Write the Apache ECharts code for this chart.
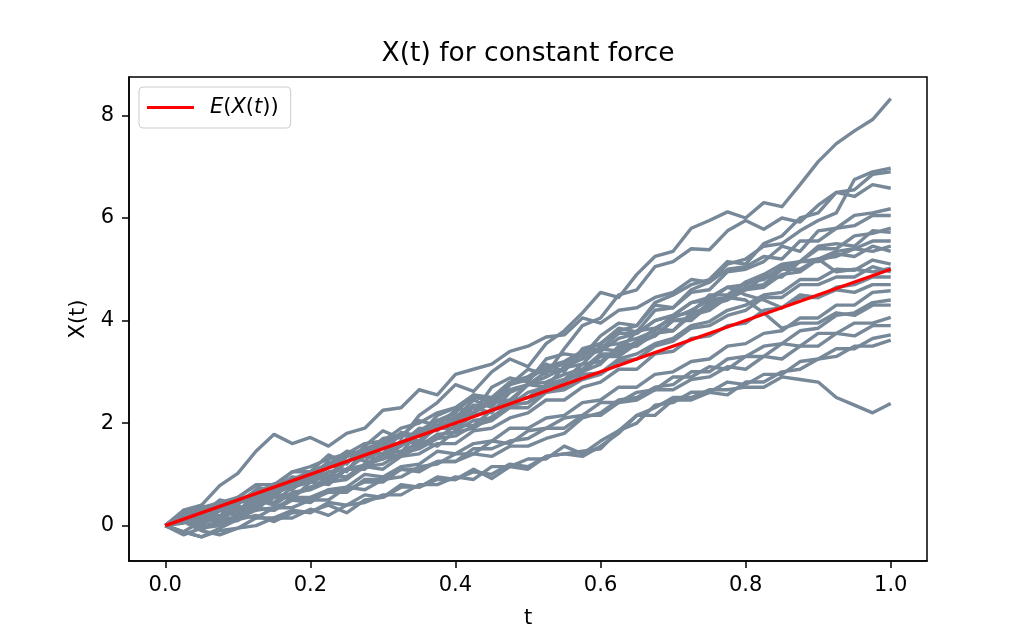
<!DOCTYPE html>
<html>
<head>
<meta charset="utf-8">
<script src="https://cdn.jsdelivr.net/npm/echarts@6/dist/echarts.min.js"></script>
<style>html,body{margin:0;padding:0;background:#fff}#c{width:1030px;height:634px}</style>
</head>
<body>
<div id="c"></div>
<script>
// time grid
const times = [0, 0.025, 0.05, 0.075, 0.1, 0.125, 0.15, 0.175, 0.2, 0.225, 0.25, 0.275, 0.3, 0.325, 0.35, 0.375, 0.4, 0.425, 0.45, 0.475, 0.5, 0.525, 0.55, 0.575, 0.6, 0.625, 0.65, 0.675, 0.7, 0.725, 0.75, 0.775, 0.8, 0.825, 0.85, 0.875, 0.9, 0.925, 0.95, 0.975, 1.0];

// sample paths X(t)
const p01 = [0, 0.22, 0.05, 0.31, 0.5, 0.38, 0.72, 0.9, 1.05, 1.38, 1.2, 1.55, 1.85, 1.7, 2.15, 2.4, 2.75, 2.62, 3.0, 3.25, 3.1, 3.55, 3.8, 4.15, 4.55, 4.45, 4.9, 5.25, 5.35, 5.8, 5.95, 6.12, 6.0, 6.3, 6.22, 6.65, 7.1, 7.45, 7.7, 7.92, 8.33];
const p02 = [0, 0.25, 0.4, 0.18, 0.55, 0.78, 0.6, 0.82, 0.95, 1.25, 1.05, 1.5, 1.62, 1.42, 1.85, 2.05, 2.1, 2.45, 2.3, 2.75, 3.05, 2.95, 3.45, 3.9, 4.05, 4.5, 4.6, 5.05, 5.15, 5.4, 5.38, 5.75, 5.95, 5.78, 6.0, 5.92, 6.25, 6.5, 6.42, 6.65, 6.58];
const p03 = [0, 0.05, 0.3, 0.15, 0.42, 0.65, 0.55, 0.92, 0.85, 1.15, 1.4, 1.25, 1.6, 1.8, 1.65, 2.05, 2.2, 2.55, 2.38, 2.75, 2.9, 3.15, 3.0, 3.45, 3.55, 3.8, 3.9, 4.3, 4.25, 4.6, 4.75, 5.1, 5.2, 5.45, 5.5, 5.75, 5.95, 6.1, 6.75, 6.9, 6.97];
const p04 = [0, 0.2, 0.05, 0.35, 0.28, 0.6, 0.82, 0.7, 1.0, 0.95, 1.35, 1.5, 1.4, 1.82, 1.75, 2.15, 2.3, 2.2, 2.7, 2.88, 2.8, 3.25, 3.35, 3.3, 3.7, 3.95, 3.9, 4.35, 4.5, 4.7, 4.8, 5.15, 5.1, 5.5, 5.65, 6.0, 6.1, 6.5, 6.55, 6.85, 6.9];
const p05 = [0, 0.28, 0.22, 0.5, 0.42, 0.7, 0.75, 1.05, 1.05, 1.2, 1.45, 1.4, 1.7, 1.75, 2.05, 1.95, 2.25, 2.5, 2.45, 2.75, 2.85, 3.1, 3.2, 3.4, 3.55, 3.85, 3.78, 4.2, 4.25, 4.55, 4.6, 4.95, 5.0, 5.15, 5.45, 5.35, 5.75, 5.8, 6.05, 6.1, 6.18];
const p06 = [0, 0.3, 0.4, 0.78, 1.02, 1.45, 1.78, 1.6, 1.72, 1.55, 1.8, 1.9, 2.25, 2.3, 2.65, 2.55, 2.95, 3.05, 3.15, 3.4, 3.5, 3.68, 3.72, 4.05, 3.95, 4.2, 4.25, 4.45, 4.55, 4.8, 4.75, 5.0, 5.05, 5.25, 5.2, 5.55, 5.55, 5.8, 5.85, 6.05, 6.05];
const p07 = [0, 0.1, 0.25, 0.3, 0.22, 0.55, 0.62, 0.78, 0.9, 1.2, 1.08, 1.38, 1.4, 1.65, 1.6, 1.95, 2.05, 2.3, 2.2, 2.6, 2.75, 2.7, 3.1, 3.25, 3.45, 3.4, 3.8, 3.85, 4.05, 4.2, 4.4, 4.45, 4.75, 4.8, 5.05, 5.15, 5.4, 5.4, 5.65, 5.7, 5.8];
const p08 = [0, 0.25, 0.1, 0.4, 0.55, 0.48, 0.68, 0.8, 0.95, 0.92, 1.25, 1.45, 1.38, 1.55, 1.8, 1.9, 2.05, 2.2, 2.5, 2.4, 2.75, 2.9, 3.08, 3.15, 3.5, 3.55, 3.65, 3.8, 4.1, 4.15, 4.5, 4.5, 4.75, 4.9, 5.1, 5.15, 5.45, 5.5, 5.45, 5.75, 5.72];
const p09 = [0, 0.18, 0.32, 0.12, 0.45, 0.58, 0.45, 0.75, 0.85, 0.8, 1.1, 1.18, 1.3, 1.4, 1.65, 1.55, 1.85, 2.05, 2.1, 2.35, 2.4, 2.7, 2.8, 3.0, 3.15, 3.5, 3.55, 3.85, 3.8, 4.15, 4.25, 4.45, 4.6, 4.85, 4.85, 5.15, 5.2, 5.35, 5.4, 5.55, 5.55];
const p10 = [0, 0.12, 0.0, 0.3, 0.38, 0.3, 0.6, 0.6, 0.75, 0.88, 1.1, 1.1, 1.4, 1.45, 1.6, 1.7, 1.95, 1.95, 2.25, 2.35, 2.6, 2.7, 2.85, 3.0, 3.3, 3.3, 3.55, 3.7, 4.0, 4.0, 4.3, 4.4, 4.6, 4.65, 4.9, 4.95, 5.2, 5.25, 5.4, 5.35, 5.45];
const p11 = [0, 0.08, 0.22, 0.3, 0.18, 0.45, 0.58, 0.52, 0.85, 0.98, 0.95, 1.2, 1.38, 1.35, 1.55, 1.78, 1.82, 1.9, 2.12, 2.35, 2.4, 2.6, 2.7, 2.95, 2.98, 3.25, 3.35, 3.55, 3.65, 3.9, 3.98, 4.2, 4.3, 4.5, 4.55, 4.8, 4.8, 5.0, 4.98, 5.18, 5.1];
const p12 = [0, 0.22, 0.35, 0.45, 0.42, 0.7, 0.75, 0.9, 1.05, 1.18, 1.35, 1.45, 1.6, 1.6, 1.9, 1.85, 2.15, 2.2, 2.4, 2.45, 2.75, 2.8, 2.95, 3.05, 3.35, 3.35, 3.6, 3.7, 4.0, 4.05, 4.35, 4.45, 4.65, 4.7, 5.0, 5.0, 5.2, 4.95, 5.0, 4.95, 5.02];
const p13 = [0, -0.12, 0.08, 0.1, 0.35, 0.35, 0.55, 0.6, 0.72, 0.95, 0.95, 1.15, 1.2, 1.4, 1.5, 1.7, 1.75, 1.95, 2.05, 2.3, 2.3, 2.6, 2.65, 2.85, 2.95, 3.2, 3.25, 3.5, 3.6, 3.85, 3.9, 4.1, 4.2, 4.45, 4.45, 4.7, 4.7, 4.85, 4.85, 5.05, 4.95];
const p14 = [0, 0.18, 0.2, 0.45, 0.5, 0.65, 0.7, 0.95, 0.9, 1.2, 1.25, 1.45, 1.55, 1.75, 1.75, 2.05, 2.1, 2.35, 2.35, 2.65, 2.75, 3.0, 3.05, 3.35, 3.4, 3.65, 3.75, 4.0, 4.1, 4.35, 4.4, 4.65, 4.5, 4.4, 4.25, 4.5, 4.45, 4.65, 4.7, 4.85, 4.85];
const p15 = [0, 0.12, -0.08, 0.1, 0.15, 0.35, 0.3, 0.55, 0.55, 0.7, 0.75, 1.0, 0.95, 1.15, 1.2, 1.45, 1.4, 1.6, 1.65, 1.9, 1.9, 2.1, 2.15, 2.4, 2.45, 2.7, 2.7, 2.95, 3.0, 3.2, 3.25, 3.5, 3.55, 3.75, 3.8, 4.05, 4.05, 4.3, 4.3, 4.55, 4.58];
const p16 = [0, 0.08, 0.12, 0.15, 0.15, 0.3, 0.35, 0.5, 0.45, 0.7, 0.7, 0.85, 0.85, 1.1, 1.05, 1.25, 1.25, 1.4, 1.35, 1.55, 1.55, 1.7, 1.8, 2.1, 2.2, 2.45, 2.5, 2.7, 2.75, 3.0, 3.0, 3.25, 3.3, 3.5, 3.55, 3.8, 3.85, 4.1, 4.15, 4.35, 4.4];
const p17 = [0, 0.18, 0.15, 0.4, 0.45, 0.6, 0.65, 0.8, 0.85, 1.05, 1.1, 1.35, 1.3, 1.6, 1.65, 1.9, 1.9, 2.15, 2.25, 2.45, 2.5, 2.75, 2.85, 3.15, 3.2, 3.45, 3.5, 3.75, 3.8, 4.1, 4.2, 4.45, 4.4, 4.15, 3.85, 3.95, 3.95, 4.15, 4.1, 4.3, 4.3];
const p18 = [0, -0.18, -0.05, 0.0, 0.2, 0.15, 0.35, 0.35, 0.5, 0.5, 0.75, 0.7, 0.9, 0.95, 1.15, 1.2, 1.4, 1.4, 1.65, 1.6, 1.85, 1.9, 2.1, 2.15, 2.4, 2.4, 2.6, 2.65, 2.9, 2.9, 3.1, 3.05, 3.3, 3.3, 3.55, 3.5, 3.75, 3.75, 3.95, 3.95, 4.06];
const p19 = [0, 0.12, 0.0, 0.05, 0.1, 0.35, 0.3, 0.5, 0.5, 0.65, 0.65, 0.9, 0.9, 1.1, 1.1, 1.25, 1.25, 1.5, 1.5, 1.65, 1.7, 1.9, 1.9, 2.15, 2.15, 2.4, 2.45, 2.65, 2.65, 2.85, 2.9, 3.1, 3.05, 3.3, 3.25, 3.5, 3.5, 3.75, 3.7, 3.9, 3.9];
const p20 = [0, -0.12, -0.22, -0.1, -0.05, 0.15, 0.15, 0.3, 0.25, 0.45, 0.4, 0.6, 0.55, 0.75, 0.75, 0.9, 0.9, 1.05, 1.0, 1.2, 1.15, 1.35, 1.4, 1.45, 1.5, 1.85, 2.0, 2.35, 2.4, 2.6, 2.6, 2.8, 2.75, 2.95, 2.95, 3.2, 3.25, 3.45, 3.45, 3.65, 3.72];
const p21 = [0, 0.08, -0.1, -0.18, -0.05, 0.0, 0.15, 0.15, 0.32, 0.2, 0.4, 0.45, 0.6, 0.6, 0.8, 0.8, 0.95, 0.9, 1.15, 1.15, 1.3, 1.3, 1.55, 1.4, 1.65, 1.85, 2.15, 2.15, 2.45, 2.45, 2.6, 2.55, 2.8, 2.8, 3.0, 3.05, 3.25, 3.3, 3.5, 3.5, 3.62];
const p22 = [0, -0.12, -0.22, -0.05, 0.12, 0.2, 0.08, 0.25, 0.28, 0.4, 0.25, 0.5, 0.55, 0.8, 0.75, 0.95, 0.9, 1.1, 0.92, 1.15, 1.1, 1.35, 1.4, 1.35, 1.55, 1.8, 2.15, 2.3, 2.5, 2.5, 2.65, 2.65, 2.7, 2.7, 2.9, 2.85, 2.8, 2.5, 2.35, 2.2, 2.38];
const p23 = [0, 0.28, 0.3, 0.45, 0.55, 0.8, 0.8, 1.05, 1.15, 1.3, 1.4, 1.6, 1.65, 1.9, 2.0, 2.2, 2.3, 2.55, 2.5, 2.8, 2.9, 3.05, 3.15, 3.4, 3.45, 3.75, 3.75, 4.0, 4.1, 4.35, 4.45, 4.65, 4.7, 4.85, 5.0, 5.15, 5.15, 5.3, 5.25, 5.45, 5.35];
const p24 = [0, 0.1, 0.05, 0.3, 0.3, 0.5, 0.4, 0.65, 0.7, 0.85, 0.9, 1.15, 1.1, 1.35, 1.4, 1.6, 1.6, 1.85, 1.9, 2.1, 2.2, 2.45, 2.45, 2.7, 2.8, 3.05, 3.05, 3.35, 3.4, 3.65, 3.7, 3.9, 3.95, 4.2, 4.25, 4.45, 4.45, 4.6, 4.55, 4.7, 4.7];

// expected value line E(X(t)) endpoints
const meanTimes = [0, 1];
const meanValues = [0, 5];

// tick labels
const xTicks = [0, 0.2, 0.4, 0.6, 0.8, 1.0];
const yTicks = [0, 2, 4, 6, 8];

const paths = [p01, p02, p03, p04, p05, p06, p07, p08, p09, p10, p11, p12,
               p13, p14, p15, p16, p17, p18, p19, p20, p21, p22, p23, p24];

const FONT = 'DejaVu Sans';
const series = paths.map((p, k) => ({
  name: 'path' + k,
  type: 'line',
  data: p.map((v, i) => [times[i], v]),
  showSymbol: false,
  symbol: 'none',
  silent: true,
  lineStyle: { color: '#778899', width: 3.4, join: 'round' },
  z: 2
}));
series.push({
  name: 'E(X(t))',
  type: 'line',
  data: meanValues.map((v, i) => [meanTimes[i], v]),
  showSymbol: false,
  symbol: 'none',
  lineStyle: { color: '#ff0000', width: 3.2 },
  itemStyle: { color: '#ff0000' },
  z: 5
});

const chart = echarts.init(document.getElementById('c'), null, { renderer: 'canvas' });
chart.setOption({
  animation: false,
  backgroundColor: '#ffffff',
  title: {
    text: 'X(t) for constant force',
    left: 528, textAlign: 'center', top: 41, padding: 0,
    textStyle: { fontFamily: FONT, fontSize: 26.5, fontWeight: 'normal', color: '#000' }
  },
  legend: {
    data: [{ name: 'E(X(t))', icon: 'rect' }],
    left: 139, top: 87,
    orient: 'vertical',
    itemWidth: 47, itemHeight: 3,
    padding: [10, 12, 10, 8],
    borderColor: '#cccccc', borderWidth: 1, borderRadius: 4,
    backgroundColor: '#ffffff',
    formatter: () => '{i|E}{n|(}{i|X}{n|(}{i|t}{n|))}',
    textStyle: {
      fontFamily: FONT, fontSize: 21, color: '#000', padding: [0, 0, 0, 11],
      rich: {
        i: { fontFamily: FONT, fontSize: 21, fontStyle: 'italic', color: '#000' },
        n: { fontFamily: FONT, fontSize: 21, color: '#000' }
      }
    }
  },
  grid: {
    left: 129, right: 103, top: 77, bottom: 70,
    show: true, borderColor: '#000', borderWidth: 1.5, backgroundColor: 'transparent'
  },
  xAxis: {
    type: 'value', min: -0.05, max: 1.05,
    name: 't', nameLocation: 'middle', nameGap: 47,
    nameTextStyle: { fontFamily: FONT, fontSize: 21, color: '#000' },
    axisLine: { show: true, onZero: false, lineStyle: { color: '#000', width: 1.5 } },
    axisTick: { show: true, length: 7, lineStyle: { color: '#000', width: 1.5 }, customValues: xTicks },
    axisLabel: { fontFamily: FONT, fontSize: 21, color: '#000', margin: 14,
                 customValues: xTicks, formatter: v => Number(v).toFixed(1) },
    splitLine: { show: false }
  },
  yAxis: {
    type: 'value', min: -0.69, max: 8.75,
    name: 'X(t)', nameLocation: 'middle', nameGap: 40, nameRotate: 90,
    nameTextStyle: { fontFamily: FONT, fontSize: 21, color: '#000' },
    axisLine: { show: true, onZero: false, lineStyle: { color: '#000', width: 1.5 } },
    axisTick: { show: true, length: 7, lineStyle: { color: '#000', width: 1.5 }, customValues: yTicks },
    axisLabel: { fontFamily: FONT, fontSize: 21, color: '#000', margin: 15,
                 customValues: yTicks, formatter: v => String(Math.round(v)) },
    splitLine: { show: false }
  },
  series: series
});
</script>
</body>
</html>
